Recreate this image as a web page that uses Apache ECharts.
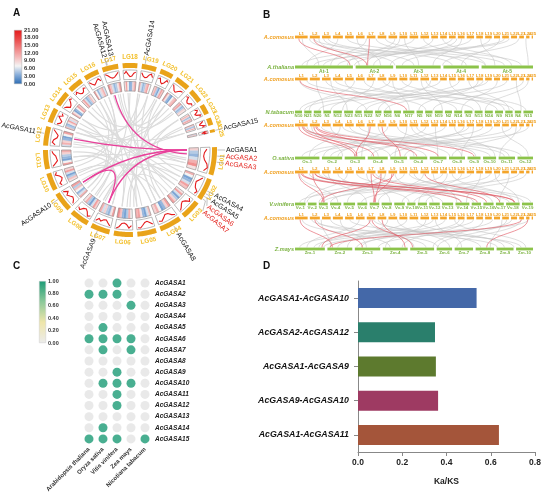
<!DOCTYPE html>
<html><head><meta charset="utf-8">
<script src="https://cdn.jsdelivr.net/npm/echarts@6.0.0/dist/echarts.min.js"></script>
<style>html,body{margin:0;padding:0;background:#fff}#c{width:550px;height:500px}</style>
</head><body><div id="c"></div>
<script>
// ---------------- DATA ----------------
// Panel A: pineapple linkage groups (relative lengths) and gene density per bin
const lgNames = Array.from({length:25},(_,i)=>'LG'+String(i+1).padStart(2,'0'));
const lgLengths = [19,15,13,15,13,13,13,13,13,12,13,13,10,10,10,10,11,10,10,9,10,9,7,5,2];
const lgDensity = [
 [9,5,4,6,11,13,8],[11,7,3,4,6,12,10],[8,12,6,3,5,9,12],[12,9,4,3,7,11,9],[10,6,3,4,8,12,11],
 [7,11,5,3,4,10,13],[12,8,4,5,9,6,11],[9,12,6,3,5,11,8],[11,6,4,7,10,5,12],[8,10,5,3,6,12,9],
 [12,7,3,4,5,9,11],[6,11,9,4,3,7,12],[10,5,4,8,12,6,9],[11,8,3,4,7,12,10],[9,12,6,4,5,10,8],
 [12,7,4,6,9,11,6],[13,10,6,4,5,8,12],[8,12,7,3,4,9,11],[11,6,4,5,10,12,7],[9,11,5,3,6,12,10],
 [12,8,4,3,7,10,11],[10,12,6,4,5,9,8],[7,11,9,4,6,12,10],[11,9,5,4,8,12,7],[8,10,6,5,9,11,7]
];
const geneNames = Array.from({length:15},(_,i)=>'AcGASA'+(i+1));
const geneChrom  = [0,0,0,1,1,1,1,3,6,8,11,16,16,18,24];
const geneOffset = [2,6,10,8,10,12,14,6,8,9.5,8,3.5,4,2,1];
const tandemGenes = ['AcGASA2','AcGASA3','AcGASA6','AcGASA7'];
const circosLinks = [[5,120],[12,200],[25,300],[30,150],[45,260],[50,95],[60,330],[70,180],[80,240],[88,20],
 [100,280],[110,160],[118,340],[125,60],[135,215],[145,300],[155,40],[165,250],[175,110],[185,320],[195,70],
 [205,140],[215,290],[225,30],[235,170],[245,100],[255,310],[262,15],[272,130],[282,200],[290,55],[298,230],
 [305,85],[315,190],[322,265],[330,120],[338,10],[345,205],[15,175],[40,225],[65,280],[92,310],[128,250],
 [158,345],[188,85],[210,35],[240,140],[270,65]];
const heatTickMax = 21;

// Panel B: synteny
const acLabels = Array.from({length:25},(_,i)=>'L'+(i+1));
const atChr = ['At-1','At-2','At-3','At-4','At-5'];
const atLen = [30.4,19.7,23.5,18.6,27.0];
const ntChr = ['N10','N21','N20','N1','N12','N23','N11','N22','N7','N16','N6','N17','N5','N8','N19','N2','N14','N3','N13','N24','N9','N18','N4','N15'];
const ntLen = [22,23,23,24,27,28,20,28,20,25,22,35,20,23,25,22,25,25,25,25,25,23,20,30];
const osChr = ['Os-1','Os-2','Os-3','Os-4','Os-5','Os-6','Os-7','Os-8','Os-9','Os-10','Os-11','Os-12'];
const osLen = [43.3,35.9,36.4,35.5,29.9,31.2,29.7,28.4,23.0,23.2,29.0,27.5];
const vvChr = Array.from({length:19},(_,i)=>'Vv-'+(i+1));
const vvLen = [23.0,18.7,19.3,24.2,25.0,21.5,21.0,22.4,23.0,18.1,19.8,22.7,24.1,30.2,20.3,22.1,17.1,29.4,24.0];
const zmChr = Array.from({length:10},(_,i)=>'Zm-'+(i+1));
const zmLen = [300,250,255,250,240,155,185,185,170,170];
const bGrey = [
 [[0.03,0.10],[0.06,0.42],[0.10,0.27],[0.14,0.66],[0.18,0.05],[0.22,0.88],[0.26,0.36],[0.30,0.15],[0.34,0.72],[0.38,0.95],[0.42,0.22],[0.46,0.52],[0.50,0.03],[0.54,0.80],[0.58,0.33],[0.62,0.91],[0.66,0.12],[0.70,0.58],[0.74,0.25],[0.78,0.84],[0.82,0.45],[0.86,0.70],[0.90,0.18],[0.94,0.62],[0.97,0.98],[0.12,0.50],[0.08,0.80],[0.44,0.30],[0.68,0.40],[0.88,0.08]],
 [[0.02,0.30],[0.05,0.75],[0.09,0.12],[0.13,0.55],[0.17,0.92],[0.21,0.40],[0.25,0.06],[0.29,0.68],[0.33,0.20],[0.37,0.85],[0.41,0.48],[0.45,0.97],[0.49,0.15],[0.53,0.62],[0.57,0.35],[0.61,0.04],[0.65,0.78],[0.69,0.26],[0.73,0.90],[0.77,0.52],[0.81,0.10],[0.85,0.70],[0.89,0.38],[0.93,0.95],[0.96,0.58],[0.40,0.02],[0.15,0.22],[0.55,0.88],[0.79,0.30],[0.98,0.80]],
 [[0.03,0.55],[0.07,0.20],[0.11,0.82],[0.15,0.35],[0.19,0.06],[0.23,0.65],[0.27,0.95],[0.31,0.28],[0.35,0.50],[0.39,0.12],[0.43,0.76],[0.47,0.42],[0.51,0.90],[0.55,0.18],[0.59,0.60],[0.63,0.03],[0.67,0.84],[0.71,0.32],[0.75,0.70],[0.79,0.08],[0.83,0.46],[0.87,0.98],[0.91,0.25],[0.95,0.66],[0.98,0.40],[0.20,0.88],[0.05,0.40],[0.49,0.70],[0.73,0.15],[0.93,0.86]],
 [[0.02,0.18],[0.06,0.62],[0.10,0.90],[0.14,0.30],[0.18,0.48],[0.22,0.04],[0.26,0.75],[0.30,0.40],[0.34,0.96],[0.38,0.22],[0.42,0.58],[0.46,0.10],[0.50,0.83],[0.54,0.35],[0.58,0.68],[0.62,0.15],[0.66,0.92],[0.70,0.45],[0.74,0.02],[0.78,0.72],[0.82,0.28],[0.86,0.55],[0.90,0.86],[0.94,0.12],[0.97,0.50],[0.48,0.99],[0.12,0.70],[0.36,0.05],[0.64,0.52],[0.84,0.94]],
 [[0.03,0.40],[0.07,0.85],[0.11,0.15],[0.15,0.60],[0.19,0.30],[0.23,0.95],[0.27,0.05],[0.31,0.50],[0.35,0.78],[0.39,0.22],[0.43,0.65],[0.47,0.10],[0.51,0.88],[0.55,0.38],[0.59,0.70],[0.63,0.18],[0.67,0.97],[0.71,0.45],[0.75,0.08],[0.79,0.58],[0.83,0.26],[0.87,0.82],[0.91,0.35],[0.95,0.68],[0.98,0.12],[0.58,0.02],[0.09,0.55],[0.33,0.92],[0.69,0.28],[0.89,0.60]]
];
const bRed = [
 [[0,0.3,0,0.95],[1,0.4,1,0.3],[6,0.3,1,0.32]],
 [[0,0.4,11,0.3]],
 [[0,0.3,2,0.5],[1,0.4,2,0.6],[6,0.4,2,0.55],[0,0.6,3,0.3],[1,0.6,5,0.4],[7,0.5,4,0.6],[1,0.7,8,0.5],[0,0.7,6,0.5]],
 [[0,0.3,2,0.5],[1,0.3,2,0.6],[1,0.5,17,0.6],[1,0.55,17,0.65],[0,0.6,14,0.6],[0,0.5,13,0.4],[6,0.5,6,0.5],[7,0.4,6,0.6],[8,0.4,6,0.4],[11,0.5,16,0.5],[8,0.6,2,0.3],[6,0.7,15,0.3]],
 [[6,0.4,0,0.9],[6,0.6,4,0.1],[7,0.5,3,0.9],[23,0.5,7,0.6],[22,0.5,1,0.1],[0,0.4,1,0.2],[1,0.5,2,0.3]]
];

// Panel C: orthologous presence
const cSpecies = ['Arabidopsis thaliana','Oryza sativa','Vitis vinifera','Zea mays','Nicotiana tabacum'];
const cGenes = geneNames;
const cOrthologs = [
 [0,0,1,0,0],[1,1,1,0,0],[0,0,0,1,0],[0,0,0,0,0],[0,1,0,0,0],
 [1,1,1,1,0],[0,1,0,1,0],[0,0,0,0,0],[0,0,1,0,0],[0,1,1,1,0],
 [0,0,1,0,0],[0,0,1,0,0],[0,0,0,0,0],[0,1,0,0,0],[1,1,1,0,1]
];

// Panel D: Ka/Ks
const kaksPairs = ['AcGASA1-AcGASA10','AcGASA2-AcGASA12','AcGASA1-AcGASA9','AcGASA9-AcGASA10','AcGASA1-AcGASA11'];
const kaksValues = [0.536,0.348,0.352,0.362,0.637];

// ---------------- STYLE / LAYOUT ----------------
const FONT = '"Liberation Sans", Arial, sans-serif';
const heatColors = ['#2b6cb3','#86acd9','#f4f4f4','#f4b8b8','#f08080','#ea4848','#e41a1c'];
const cColorsDots = ['#e4e4e4','#efe7a6','#1b9b76'];
const cColorsLegend = ['#ececec','#efe6aa','#8cc99a','#1b9b76'];
const dColors = ['#4468a8','#2a7f6c','#5d7a2e','#9e3a62','#a4553a'];
const GAP = 3, END_GAP = 10;
const lgStart = []; let acc = 0;
lgLengths.forEach((l,i)=>{ lgStart.push(acc); acc += l + (i < lgLengths.length-1 ? GAP : END_GAP); });
const circosTotal = acc;
const geneV = geneNames.map((g,i)=> lgStart[geneChrom[i]] + geneOffset[i]);
const order = geneV.map((v,i)=>i).sort((a,b)=>geneV[a]-geneV[b]);
const labelV = geneV.slice();
for (let k=1;k<order.length;k++){ const prev = labelV[order[k-1]]; const cur = order[k]; if (labelV[cur] < prev + 4) labelV[cur] = prev + 4; }

function theta(api, v){ const c = api.coord([0, v]); const p = api.coord([100, v]); return Math.atan2(p[1]-c[1], p[0]-c[0]); }
function arcPts(api, r0, r1, a0, a1){
  const n = Math.max(2, Math.ceil(Math.abs(a1-a0)) + 1); const pts = [];
  for (let k=0;k<n;k++) pts.push(api.coord([r1, a0+(a1-a0)*k/(n-1)]));
  for (let k=n-1;k>=0;k--) pts.push(api.coord([r0, a0+(a1-a0)*k/(n-1)]));
  return pts;
}
function txt(x,y,rot,text,color,size,align,valign,weight,style){
  return {type:'text', x, y, rotation:rot, style:{text, fill:color, fontSize:size, fontFamily:FONT, fontWeight:weight||'normal', fontStyle:style||'normal', align, verticalAlign:valign}};
}
function radialText(api, r, v, text, color, size){
  const p = api.coord([r, v]); const t = theta(api, v); const right = Math.cos(t) >= 0;
  return txt(p[0], p[1], right ? -t : Math.PI - t, text, color, size, right?'left':'right', 'middle');
}
function tangentText(api, r, v, text, color, size){
  const p = api.coord([r, v]); const t = theta(api, v);
  const rot = Math.sin(t) > 0 ? Math.PI/2 - t : -(t + Math.PI/2);
  return txt(p[0], p[1], rot, text, color, size, 'center', 'middle', 'bold');
}

// Panel B layout
const ROW_Y = [0,30,42,75,88,121,135,167,181,212];
const bRows = [
 {name:'A.comosus', chr:acLabels, len:lgLengths, ac:true},
 {name:'A.thaliana', chr:atChr, len:atLen},
 {name:'A.comosus', chr:acLabels, len:lgLengths, ac:true},
 {name:'N.tabacum', chr:ntChr, len:ntLen},
 {name:'A.comosus', chr:acLabels, len:lgLengths, ac:true},
 {name:'O.sativa', chr:osChr, len:osLen},
 {name:'A.comosus', chr:acLabels, len:lgLengths, ac:true},
 {name:'V.vinifera', chr:vvChr, len:vvLen},
 {name:'A.comosus', chr:acLabels, len:lgLengths, ac:true},
 {name:'Z.mays', chr:zmChr, len:zmLen}
];
bRows.forEach(row=>{
  const tot = row.len.reduce((a,b)=>a+b,0); const g = tot*0.012; const T = tot + g*(row.len.length-1);
  let x = 0; row.starts=[]; row.ends=[];
  row.len.forEach(l=>{ row.starts.push(x/T); row.ends.push((x+l)/T); x += l + g; });
});
const bChromData = []; bRows.forEach((row,r)=>row.chr.forEach((c,ci)=>bChromData.push([r,ci])));
const bGreyData = []; bGrey.forEach((arr,k)=>arr.forEach(p=>bGreyData.push([k,p[0],p[1]])));
const bRedData = []; bRed.forEach((arr,k)=>arr.forEach(p=>bRedData.push([k,p[0],p[1],p[2],p[3]])));

function bLink(api, k, a, b, color, lw){
  const pt = api.coord([a, ROW_Y[2*k]+1.5]); const pb = api.coord([b, ROW_Y[2*k+1]-1.5]);
  const my = (pt[1]+pb[1])/2;
  return {type:'bezierCurve', shape:{x1:pt[0],y1:pt[1],x2:pb[0],y2:pb[1],cpx1:pt[0],cpy1:my,cpx2:pb[0],cpy2:my}, style:{stroke:color, lineWidth:lw, fill:'none'}};
}

// ---------------- OPTION ----------------
const heatData = []; lgDensity.forEach((arr,i)=>arr.forEach((v,k)=>heatData.push([i,k,v])));
const cData = []; cOrthologs.forEach((row,i)=>row.forEach((v,j)=>cData.push([j,i,v])));
const pinkData = kaksPairs.map(p=>p.split('-').map(g=>geneV[geneNames.indexOf(g)]));

const hiddenCat = (gi)=>({gridIndex:gi, type:'category', data:['v'], show:false});
const legendY = (gi,max,iv,fs)=>({gridIndex:gi, type:'value', min:0, max, interval:iv, position:'right',
  axisLine:{show:false}, axisTick:{show:false}, splitLine:{show:false},
  axisLabel:{fontSize:fs, fontWeight:'bold', color:'#333', margin:2, fontFamily:FONT, formatter:v=>v.toFixed(2)}});
const grad = cols=>({type:'linear',x:0,y:1,x2:0,y2:0,colorStops:cols.map((c,k)=>({offset:k/(cols.length-1),color:c}))});

const series = [];
series.push({type:'bar', xAxisIndex:0, yAxisIndex:0, data:[heatTickMax], barWidth:'100%', silent:true,
  itemStyle:{color:grad(heatColors), borderColor:'#aaa', borderWidth:0.5}});
series.push({type:'bar', xAxisIndex:2, yAxisIndex:2, data:[1], barWidth:'100%', silent:true,
  itemStyle:{color:grad(cColorsLegend), borderColor:'#ccc', borderWidth:0.5}});
const idxHeat = series.length;
series.push({type:'custom', coordinateSystem:'polar', polarIndex:0, data:heatData, silent:true,
  renderItem(params, api){
    const i = api.value(0), k = api.value(1); const n = lgDensity[i].length;
    const a0 = lgStart[i] + k*lgLengths[i]/n, a1 = a0 + lgLengths[i]/n;
    const col = api.visual('color');
    return {type:'polygon', shape:{points:arcPts(api,59,68.5,a0,a1)}, style:{fill:col, stroke:col, lineWidth:0.3}};
  }});
series.push({type:'custom', coordinateSystem:'polar', polarIndex:0, data:lgLengths.map((l,i)=>[i,l]), silent:true,
  renderItem(params, api){
    const i = api.value(0); const a0 = lgStart[i], a1 = a0 + lgLengths[i];
    const ch = [];
    ch.push({type:'polygon', shape:{points:arcPts(api,82,87,a0,a1)}, style:{fill:'#e9a319'}});
    ch.push({type:'polygon', shape:{points:arcPts(api,70.5,80,a0,a1)}, style:{fill:'#fff', stroke:'#8a8a8a', lineWidth:0.6}});
    const vals = lgDensity[i]; const n = vals.length;
    const pts = vals.map((v,k)=>api.coord([71.5 + v*0.6, a0 + (k+0.5)*(a1-a0)/n]));
    ch.push({type:'polyline', shape:{points:pts}, style:{stroke:'#e41a1c', lineWidth:1.1, fill:'none'}});
    ch.push({type:'polygon', shape:{points:arcPts(api,59,68.5,a0,a1)}, style:{fill:'none', stroke:'#8a8a8a', lineWidth:0.6}});
    ch.push(tangentText(api, 92.5, (a0+a1)/2, lgNames[i], '#f3c02c', 6.3));
    return {type:'group', children:ch};
  }});
series.push({type:'custom', coordinateSystem:'polar', polarIndex:0, data:circosLinks, silent:true,
  renderItem(params, api){
    const pa = api.coord([57, api.value(0)]), pb = api.coord([57, api.value(1)]), c = api.coord([0,0]);
    return {type:'bezierCurve', shape:{x1:pa[0],y1:pa[1],x2:pb[0],y2:pb[1],cpx1:c[0],cpy1:c[1]}, style:{stroke:'#dcdcdc', lineWidth:1.1, fill:'none'}};
  }});
series.push({type:'custom', coordinateSystem:'polar', polarIndex:0, data:pinkData, silent:true,
  renderItem(params, api){
    const pa = api.coord([57, api.value(0)]), pb = api.coord([57, api.value(1)]), c = api.coord([0,0]);
    return {type:'bezierCurve', shape:{x1:pa[0],y1:pa[1],x2:pb[0],y2:pb[1],cpx1:c[0],cpy1:c[1]}, style:{stroke:'#e8409a', lineWidth:1.3, fill:'none'}};
  }});
series.push({type:'custom', coordinateSystem:'polar', polarIndex:0, data:geneNames.map((g,i)=>[geneV[i],labelV[i]]), silent:true,
  renderItem(params, api){
    const v = api.value(0), lv = api.value(1), name = geneNames[params.dataIndex];
    const p1 = api.coord([87.5, v]), p2 = api.coord([91, v]), p3 = api.coord([95, lv]);
    return {type:'group', children:[
      {type:'polyline', shape:{points:[p1,p2,p3]}, style:{stroke:'#999', lineWidth:0.6, fill:'none'}},
      radialText(api, 96, lv, name, tandemGenes.includes(name)?'#e3201b':'#111', 7)
    ]};
  }});
// Panel B
series.push({type:'custom', xAxisIndex:1, yAxisIndex:1, data:bGreyData, silent:true,
  renderItem(params, api){ return bLink(api, api.value(0), api.value(1), api.value(2), 'rgba(195,195,195,0.7)', 0.8); }});
series.push({type:'custom', xAxisIndex:1, yAxisIndex:1, data:bRedData, silent:true,
  renderItem(params, api){
    const k = api.value(0); const top = bRows[2*k], bot = bRows[2*k+1];
    const ac = api.value(1), af = api.value(2), tc = api.value(3), tf = api.value(4);
    const a = top.starts[ac] + af*(top.ends[ac]-top.starts[ac]);
    const b = bot.starts[tc] + tf*(bot.ends[tc]-bot.starts[tc]);
    return bLink(api, k, a, b, 'rgba(226,90,100,0.8)', 0.8);
  }});
series.push({type:'custom', xAxisIndex:1, yAxisIndex:1, data:bChromData, silent:true,
  renderItem(params, api){
    const r = api.value(0), c = api.value(1); const row = bRows[r];
    const p0 = api.coord([row.starts[c], ROW_Y[r]]), p1 = api.coord([row.ends[c], ROW_Y[r]]);
    const col = row.ac ? '#f4a52a' : '#8cc34a';
    const lcol = row.ac ? '#f0a020' : '#7cb342';
    const ch = [{type:'rect', shape:{x:p0[0], y:p0[1]-1.4, width:p1[0]-p0[0], height:2.8}, style:{fill:col}}];
    ch.push(txt((p0[0]+p1[0])/2, row.ac ? p0[1]-1.6 : p0[1]+1.8, 0, row.chr[c], lcol, row.chr === atChr ? 5 : 4.4, 'center', row.ac?'bottom':'top', 'bold'));
    if (c === 0) ch.push(txt(p0[0]-1, p0[1], 0, row.name, row.ac?'#f0a020':'#7cb342', 5.6, 'right', 'middle', 'bold', 'italic'));
    return {type:'group', children:ch};
  }});
// Panel C
const idxC = series.length;
series.push({type:'scatter', xAxisIndex:3, yAxisIndex:3, data:cData, symbolSize:9, silent:true});
// Panel D
series.push({type:'bar', xAxisIndex:4, yAxisIndex:4, data:kaksValues, barWidth:20, silent:true,
  itemStyle:{color:p=>dColors[p.dataIndex]}});

const option = {
  animation:false, backgroundColor:'#fff', textStyle:{fontFamily:FONT},
  polar:[{center:[130,150], radius:100}],
  angleAxis:[{polarIndex:0, type:'value', min:0, max:circosTotal, startAngle:2, clockwise:true,
    axisLine:{show:false}, axisTick:{show:false}, axisLabel:{show:false}, splitLine:{show:false}}],
  radiusAxis:[{polarIndex:0, type:'value', min:0, max:100,
    axisLine:{show:false}, axisTick:{show:false}, axisLabel:{show:false}, splitLine:{show:false}}],
  grid:[
    {left:14, top:30, width:8, height:54, outerBoundsMode:'none'},
    {left:295, top:37, width:238, height:212, outerBoundsMode:'none'},
    {left:39, top:281, width:7, height:62, outerBoundsMode:'none'},
    {left:82, top:277.5, width:70, height:167, outerBoundsMode:'none'},
    {left:358, top:281, width:177, height:171, outerBoundsMode:'none'}
  ],
  xAxis:[
    hiddenCat(0),
    {gridIndex:1, type:'value', min:0, max:1, show:false},
    hiddenCat(2),
    {gridIndex:3, type:'category', data:cSpecies, axisLine:{show:false}, axisTick:{show:false},
      axisLabel:{rotate:45, interval:0, fontSize:6, fontWeight:'bold', color:'#333', margin:4, fontFamily:FONT}},
    {gridIndex:4, type:'value', min:0, max:0.8, interval:0.2, splitLine:{show:false},
      axisLine:{show:true, lineStyle:{color:'#888'}}, axisTick:{show:true, length:4, lineStyle:{color:'#888'}},
      axisLabel:{fontSize:8.5, fontWeight:'bold', color:'#222', margin:6, fontFamily:FONT, formatter:v=>v.toFixed(1)},
      name:'Ka/KS', nameLocation:'middle', nameGap:25, nameTextStyle:{fontSize:8.5, fontWeight:'bold', color:'#222', fontFamily:FONT}}
  ],
  yAxis:[
    legendY(0, heatTickMax, 3, 5.8),
    {gridIndex:1, type:'value', min:0, max:212, inverse:true, show:false},
    legendY(2, 1, 0.2, 5.5),
    {gridIndex:3, type:'category', data:cGenes, inverse:true, position:'right', axisLine:{show:false}, axisTick:{show:false},
      axisLabel:{interval:0, fontSize:6.5, fontWeight:'bold', fontStyle:'italic', color:'#222', margin:3, fontFamily:FONT}},
    {gridIndex:4, type:'category', data:kaksPairs, inverse:true,
      axisLine:{show:true, lineStyle:{color:'#888'}}, axisTick:{show:true, alignWithLabel:true, length:4, lineStyle:{color:'#888'}},
      axisLabel:{interval:0, fontSize:8.8, fontWeight:'bold', fontStyle:'italic', color:'#111', margin:9, fontFamily:FONT}}
  ],
  visualMap:[
    {type:'continuous', show:false, min:0, max:heatTickMax, dimension:2, seriesIndex:idxHeat, inRange:{color:heatColors}},
    {type:'continuous', show:false, min:0, max:1, dimension:2, seriesIndex:idxC, inRange:{color:cColorsDots}}
  ],
  graphic:[
    {type:'text', left:13, top:8, style:{text:'A', fontSize:10, fontWeight:'bold', fill:'#111', fontFamily:FONT}},
    {type:'text', left:263, top:10, style:{text:'B', fontSize:10, fontWeight:'bold', fill:'#111', fontFamily:FONT}},
    {type:'text', left:13, top:261, style:{text:'C', fontSize:10, fontWeight:'bold', fill:'#111', fontFamily:FONT}},
    {type:'text', left:263, top:261, style:{text:'D', fontSize:10, fontWeight:'bold', fill:'#111', fontFamily:FONT}}
  ],
  series
};
const chart = echarts.init(document.getElementById('c'));
chart.setOption(option);
</script>
</body></html>
